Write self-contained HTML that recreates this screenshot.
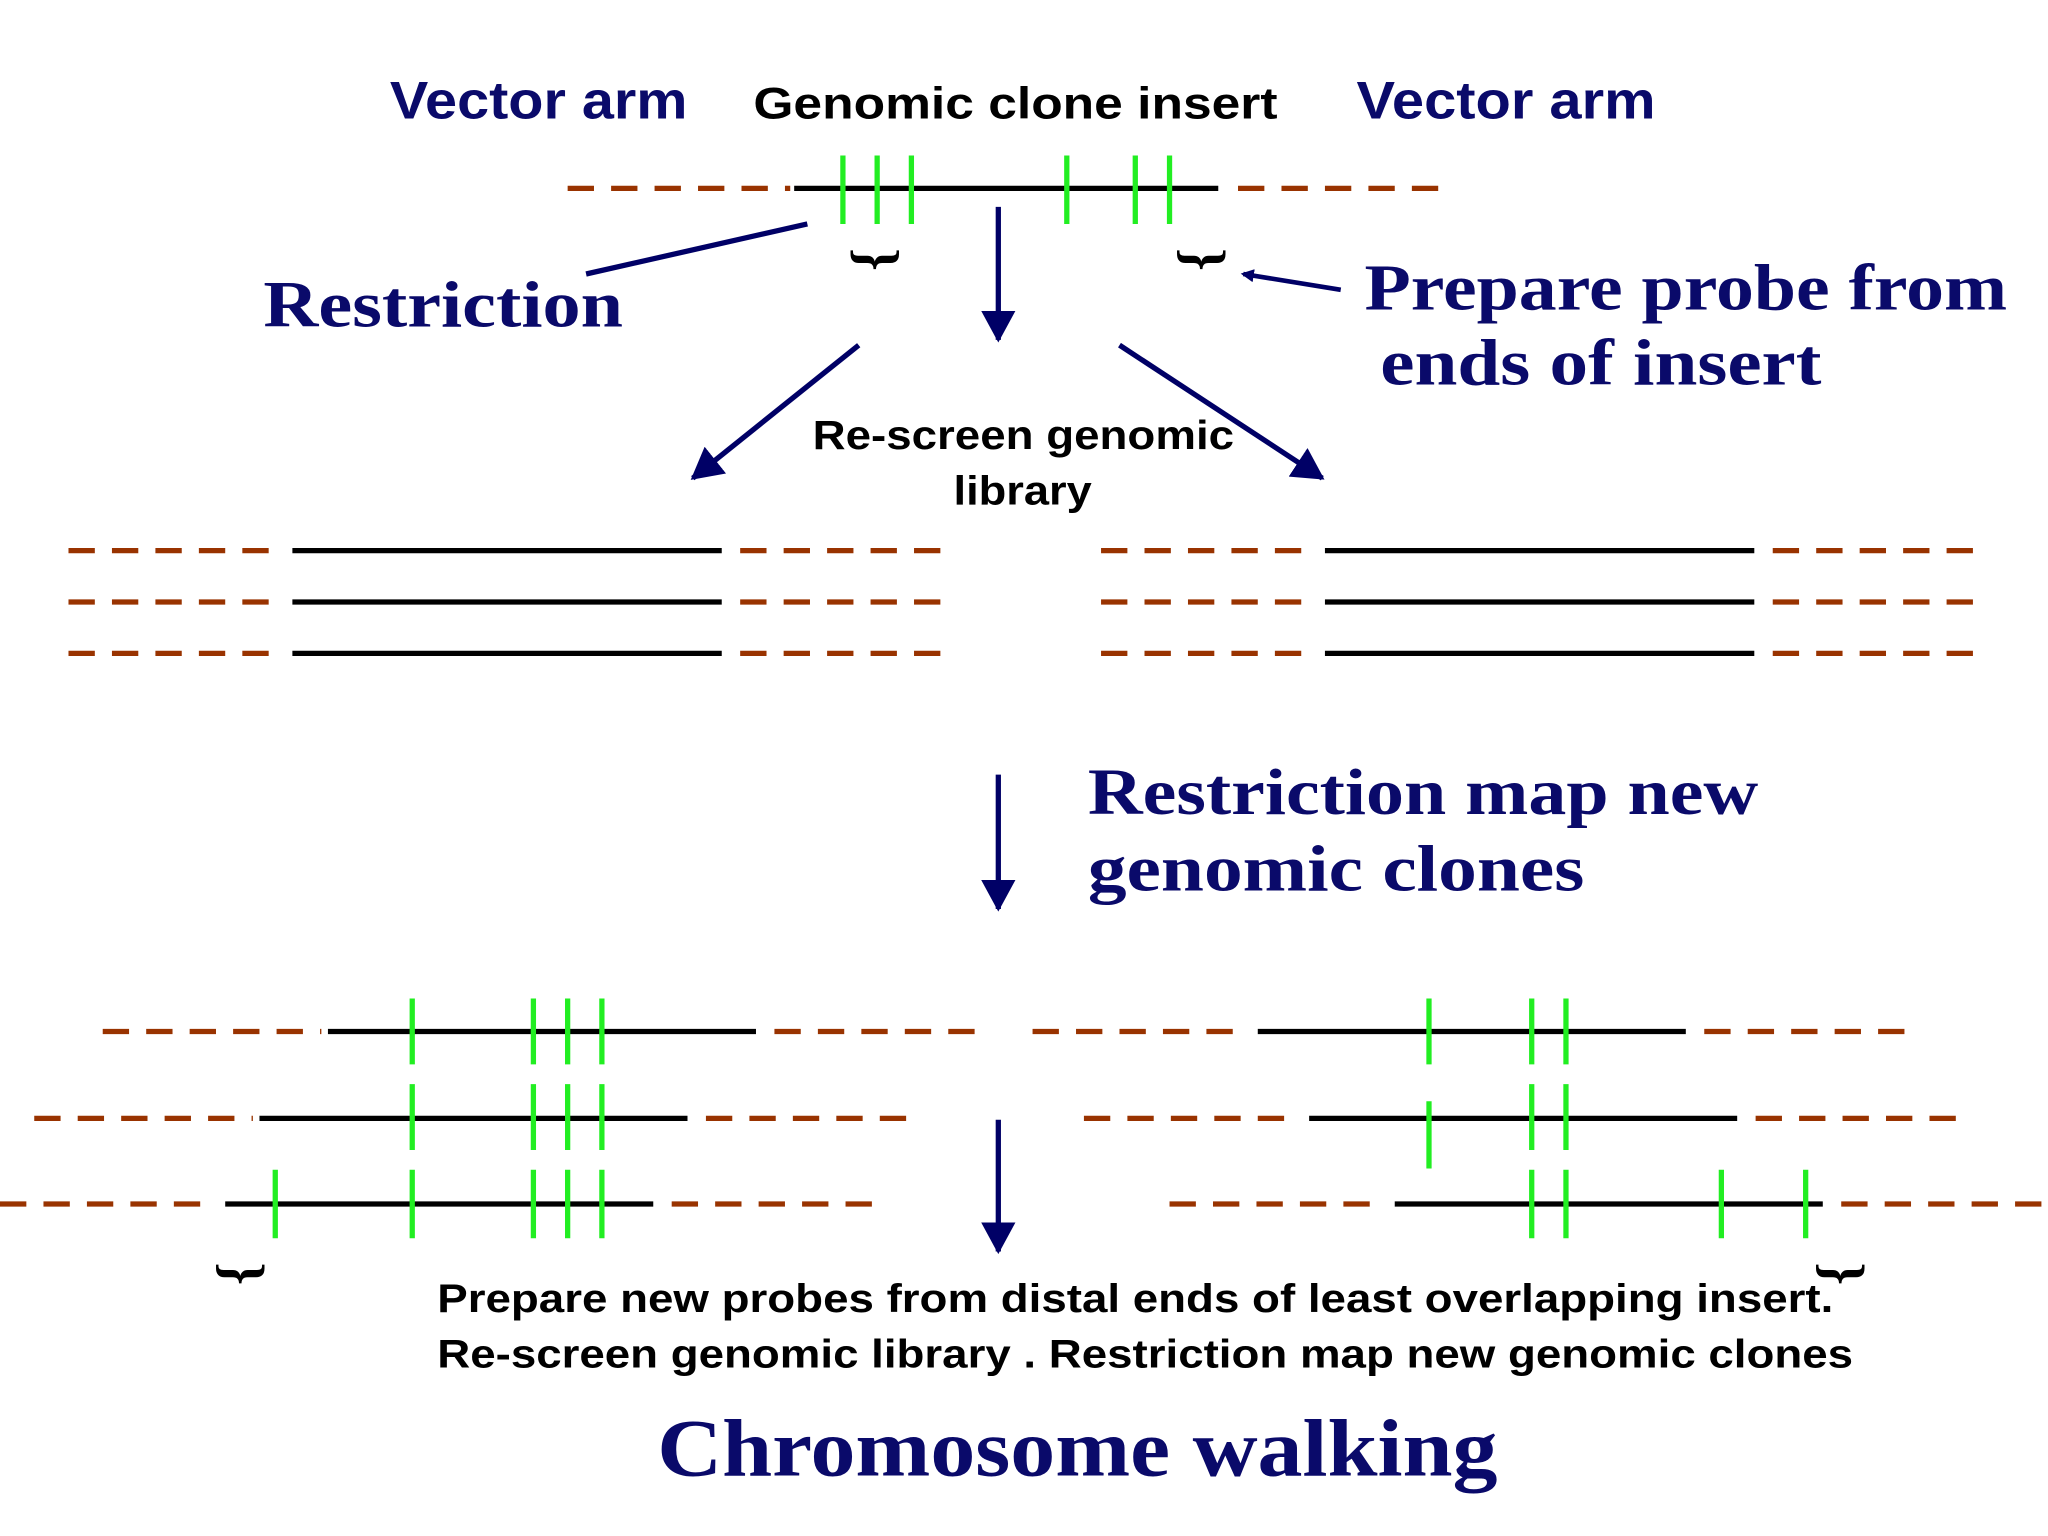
<!DOCTYPE html>
<html><head><meta charset="utf-8"><style>html,body{margin:0;padding:0;background:#fff}svg{display:block}</style></head><body>
<svg width="2048" height="1536" viewBox="0 0 1555 1166" preserveAspectRatio="none" xmlns="http://www.w3.org/2000/svg">
<defs>
<marker id="ah" markerWidth="10" markerHeight="10" refX="8" refY="5" orient="auto" markerUnits="userSpaceOnUse" viewBox="0 0 10 10">
<path d="M0,0 L10,5 L0,10 z" fill="#000066"/></marker>
<marker id="ah2" markerWidth="24" markerHeight="26" refX="22" refY="13" orient="auto" markerUnits="userSpaceOnUse" viewBox="0 0 24 26">
<path d="M0,0 L24,13 L0,26 z" fill="#000066"/></marker>
</defs>
<g font-family="Liberation Sans, sans-serif" font-weight="bold">
<text x="296" y="90" font-size="40" fill="#0a0a6a" textLength="226" lengthAdjust="spacingAndGlyphs">Vector arm</text>
<text x="572" y="90" font-size="34" fill="#000" textLength="398" lengthAdjust="spacingAndGlyphs">Genomic clone insert</text>
<text x="1030" y="90" font-size="40" fill="#0a0a6a" textLength="227" lengthAdjust="spacingAndGlyphs">Vector arm</text>
<text x="617" y="341" font-size="31" textLength="320" lengthAdjust="spacingAndGlyphs">Re-screen genomic</text>
<text x="724" y="383" font-size="31" textLength="105" lengthAdjust="spacingAndGlyphs">library</text>
<text x="332" y="996" font-size="30" textLength="1060" lengthAdjust="spacingAndGlyphs">Prepare new probes from distal ends of least overlapping insert.</text>
<text x="332" y="1038" font-size="30" textLength="1075" lengthAdjust="spacingAndGlyphs">Re-screen genomic library . Restriction map new genomic clones</text>
</g>
<g font-family="Liberation Serif, serif" font-weight="bold" fill="#0a0a6a">
<text x="200" y="248" font-size="50" textLength="273" lengthAdjust="spacingAndGlyphs">Restriction</text>
<text x="1036" y="235" font-size="50" textLength="488" lengthAdjust="spacingAndGlyphs">Prepare probe from</text>
<text x="1048" y="292" font-size="50" textLength="335" lengthAdjust="spacingAndGlyphs">ends of insert</text>
<text x="826" y="618" font-size="50" textLength="509" lengthAdjust="spacingAndGlyphs">Restriction map new</text>
<text x="826" y="676" font-size="50" textLength="377" lengthAdjust="spacingAndGlyphs">genomic clones</text>
<text x="499" y="1120" font-size="62" textLength="638" lengthAdjust="spacingAndGlyphs">Chromosome walking</text>
</g>
<g stroke="#993300" stroke-width="4" stroke-dasharray="20 13">
<path d="M431 143H600M940 143H1100"/>
<path d="M52 418H215M562 418H725M836 418H999M1346 418H1509"/>
<path d="M52 457H215M562 457H725M836 457H999M1346 457H1509"/>
<path d="M52 496H215M562 496H725M836 496H999M1346 496H1509"/>
<path d="M78 783H244M588 783H750M784 783H948M1294 783H1456"/>
<path d="M26 849H192M536 849H698M823 849H988M1333 849H1495"/>
<path d="M0 914H164M510 914H672M888 914H1053M1398 914H1555"/>
</g>
<g stroke="#000" stroke-width="4">
<path d="M603 143H925"/>
<path d="M222 418H548M1006 418H1332M222 457H548M1006 457H1332M222 496H548M1006 496H1332"/>
<path d="M249 783H574M955 783H1280M197 849H522M994 849H1319M171 914H496M1059 914H1384"/>
</g>
<g stroke="#22ee22" stroke-width="4">
<path d="M640 118V170M666 118V170M692 118V170M810 118V170M862 118V170M888 118V170"/>
<path d="M313 758V808M405 758V808M431 758V808M457 758V808M1085 758V808M1163 758V808M1189 758V808"/>
<path d="M313 823V873M405 823V873M431 823V873M457 823V873M1085 836V887M1163 823V873M1189 823V873"/>
<path d="M209 888V940M313 888V940M405 888V940M431 888V940M457 888V940M1163 888V940M1189 888V940M1307 888V940M1371 888V940"/>
</g>
<g stroke="#000066" stroke-width="4" fill="none">
<path d="M613 170L445 208"/>
<path d="M758 157V258" marker-end="url(#ah2)"/>
<path d="M758 588V690" marker-end="url(#ah2)"/>
<path d="M758 850V950" marker-end="url(#ah2)"/>
<path d="M652 262L526 363" marker-end="url(#ah2)"/>
<path d="M850 262L1004 363" marker-end="url(#ah2)"/>
<path d="M1018 220L944 208" stroke-width="3.5" marker-end="url(#ah)"/>
</g>
<g font-family="Liberation Serif, serif" font-weight="bold" font-size="44" text-anchor="middle">
<text transform="translate(662 197) rotate(90)" dominant-baseline="middle">}</text>
<text transform="translate(910 197) rotate(90)" dominant-baseline="middle">}</text>
<text transform="translate(180 967) rotate(90)" dominant-baseline="middle">}</text>
<text transform="translate(1395 967) rotate(90)" dominant-baseline="middle">}</text>
</g>
</svg>
</body></html>
